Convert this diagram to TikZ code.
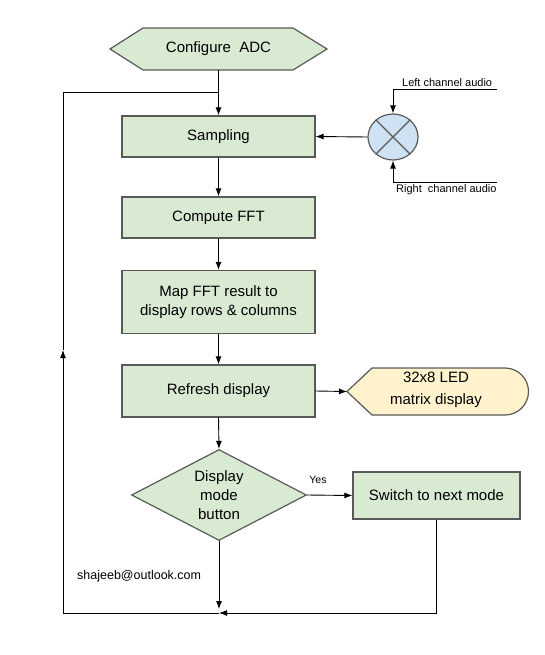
\documentclass[tikz,border=0pt]{standalone}
\usepackage{fontspec}
\setmainfont{Liberation Sans}
\usetikzlibrary{arrows.meta,shapes.geometric,calc}
\definecolor{gfill}{HTML}{D9EAD3}
\definecolor{gline}{HTML}{595959}
\definecolor{bfill}{HTML}{CFE2F3}
\definecolor{yfill}{HTML}{FFF2CC}
\begin{document}
\begin{tikzpicture}[x=1pt,y=-1pt,
  box/.style={draw=gline,fill=gfill,line width=1.2pt,rectangle,inner sep=0pt,
    font=\fontsize{15}{19}\selectfont,align=center},
  shapeline/.style={draw=gline,line width=1.2pt},
  arr/.style={-{Latex[length=8pt,width=6pt]},line width=0.9pt},
  ln/.style={line width=0.9pt},
  small/.style={font=\fontsize{11}{13}\selectfont,inner sep=0pt}]
\useasboundingbox (0,0) rectangle (544,655);

% Configure ADC (hexagon)
\draw[shapeline,fill=gfill] (110,49) -- (143,28) -- (293,28) -- (327,49) -- (293,70) -- (143,70) -- cycle;
\node[inner sep=0pt,minimum width=217pt,minimum height=42pt,font=\fontsize{15}{19}\selectfont] (cfg) at (218.5,49) {Configure\ \ ADC};

% process boxes
\node[box,minimum width=193pt,minimum height=41pt] (smp) at (218.5,136.5) {Sampling};
\node[box,minimum width=193pt,minimum height=41pt] (fft) at (218.5,217.5) {Compute FFT};
\node[box,minimum width=193pt,minimum height=63pt] (map) at (218.5,302) {Map FFT result to\\display rows \& columns};
\node[box,minimum width=193pt,minimum height=52pt] (ref) at (218.5,391) {Refresh display};
\node[diamond,draw=gline,fill=gfill,line width=1.2pt,inner sep=0pt,aspect=1.92,
  minimum width=175pt,minimum height=91pt,align=center,font=\fontsize{15}{19}\selectfont] (dm) at (219,495) {Display\\mode\\button};
\node[box,minimum width=167pt,minimum height=47pt] (sw) at (436.5,495.5) {Switch to next mode};

% summing junction
\node[ellipse,draw=gline,fill=bfill,line width=1.2pt,minimum width=50pt,minimum height=46pt,inner sep=0pt] (sum) at (393,137) {};
\draw[shapeline] (sum.45) -- (sum.-135) (sum.135) -- (sum.-45);

% LED matrix display
\draw[shapeline,fill=yfill] (347,391.5) -- (372,368) -- (505,368) arc(-90:90:23.5) -- (372,415) -- cycle;
\node[inner sep=0pt,align=center,font=\fontsize{15}{22}\selectfont] (led) at (436,389.5) {32x8 LED\\matrix display};
\coordinate (ledin) at (347,391.5);

% labels
\node[small,anchor=base west] (lt) at (402,87) {Left channel audio};
\node[small,anchor=base west] (rt) at (396,192) {Right\ \ channel audio};
\node[inner sep=0pt,anchor=base,font=\fontsize{10.5}{12}\selectfont] (yes) at (318,483) {Yes};
\node[inner sep=0pt,anchor=base west,font=\fontsize{12.5}{14}\selectfont] (em) at (77,579) {shajeeb@outlook.com};

% coordinates
\coordinate (lin) at (497,89);
\coordinate (rin) at (497,182);
\coordinate (j) at (219,613);
\coordinate (bl) at (63,613);
\coordinate (lm) at (63,350);
\coordinate (tl) at (63,92);
\coordinate (tj) at (218.5,92);

% connectors
\draw[arr] (lin) -| (sum.north);
\draw[arr] (rin) -| (sum.south);
\draw[arr] (sum.west) -- (smp.east);
\draw[arr] (cfg.south) -- (smp.north);
\draw[arr] (smp.south) -- (fft.north);
\draw[arr] (fft.south) -- (map.north);
\draw[arr] (map.south) -- (ref.north);
\draw[arr] (ref.south) -- (dm.north);
\draw[arr] (ref.east) -- (ledin);
\draw[arr] (dm.east) -- (sw.west);
\draw[arr] (dm.south) -- ($(j)+(0,-4)$);
\draw[arr] (sw.south) |- (j);
\draw[ln] (j) -- (bl);
\draw[arr] (bl) -- (lm);
\draw[ln] (lm) -- (tl) -- (tj);
\end{tikzpicture}
\end{document}
